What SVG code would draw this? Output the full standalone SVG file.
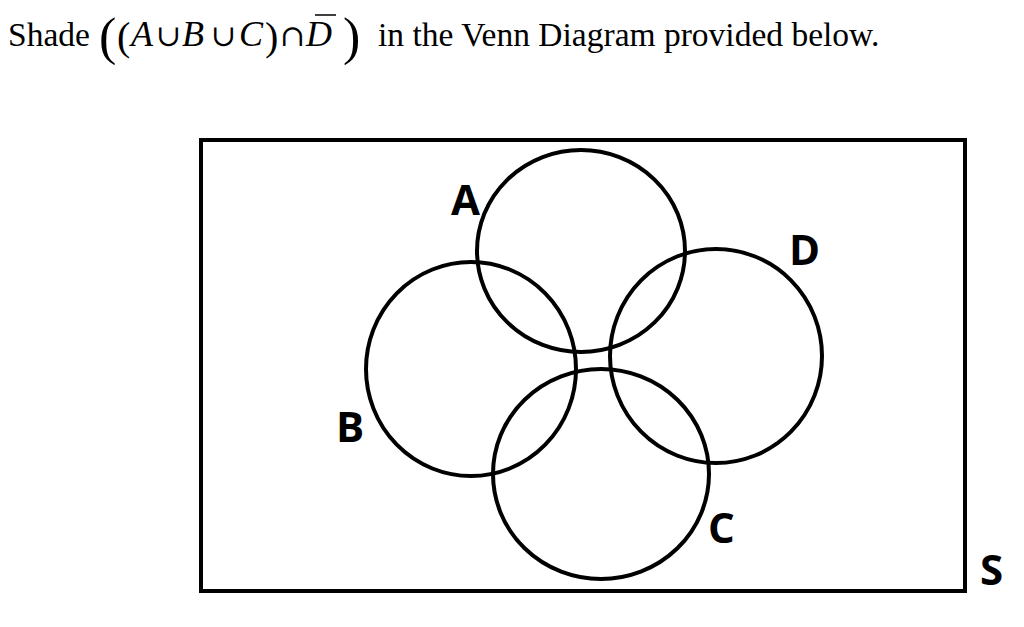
<svg xmlns="http://www.w3.org/2000/svg" width="1024" height="627" viewBox="0 0 1024 627">
<style>
.t{font-family:"Liberation Serif","Times New Roman","DejaVu Serif",serif;font-size:33.5px;fill:#000}
.i{font-style:italic;font-size:36px}
.op{font-family:"DejaVu Serif","Liberation Serif",serif;font-size:30px}
.lbl{font-family:"Open Sans","Liberation Sans",sans-serif;font-weight:700;font-size:42px;fill:#000}
.set{fill:none;stroke:#000;stroke-width:4}
</style>
<rect width="1024" height="627" fill="#fff"/>
<g id="title">
<text class="t" x="8" y="46">Shade</text>
<text class="t" x="99" y="54" style="font-size:52px">(</text>
<text class="t" x="117" y="50" style="font-size:40px">(</text>
<text class="t i" x="131" y="46">A</text>
<text class="t op" x="156" y="46">∪</text>
<text class="t i" x="182" y="46">B</text>
<text class="t op" x="211" y="46">∪</text>
<text class="t i" x="239" y="46">C</text>
<text class="t" x="265" y="50" style="font-size:40px">)</text>
<text class="t op" x="280" y="46">∩</text>
<text class="t i" x="306" y="46">D</text>
<line x1="315" y1="15" x2="336" y2="15" stroke="#000" stroke-width="1.5"/>
<text class="t" x="343" y="54" style="font-size:52px">)</text>
<text class="t" x="378" y="46">in the Venn Diagram provided below.</text>
</g>
<g id="S">
<rect class="set" x="201" y="140" width="764" height="451"/>
<text class="lbl" x="980" y="585">S</text>
</g>
<g id="A">
<ellipse class="set" cx="581" cy="251" rx="104" ry="101"/>
<text class="lbl" x="451" y="215">A</text>
</g>
<g id="B">
<ellipse class="set" cx="471" cy="369" rx="105" ry="107"/>
<text class="lbl" x="336" y="442">B</text>
</g>
<g id="D">
<ellipse class="set" cx="716" cy="356" rx="106" ry="107"/>
<text class="lbl" x="789" y="265">D</text>
</g>
<g id="C">
<ellipse class="set" cx="601" cy="474" rx="108" ry="105"/>
<text class="lbl" x="708" y="543">C</text>
</g>
<g id="connectors"/>
</svg>
